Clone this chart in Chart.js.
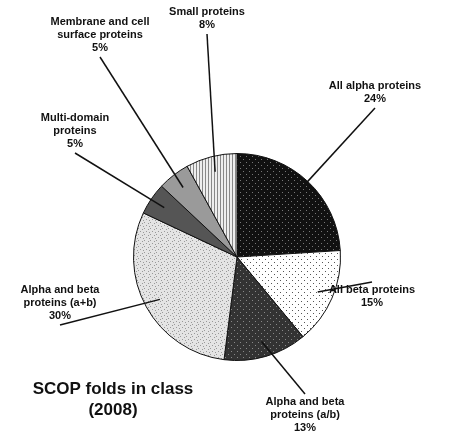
<!DOCTYPE html>
<html><head><meta charset="utf-8">
<script src="https://cdn.jsdelivr.net/npm/chart.js@4/dist/chart.umd.min.js"></script>
<style>html,body{margin:0;background:#fff}#wrap{width:474px;height:437px}</style>
</head><body><div id="wrap"><canvas id="c"></canvas></div>
<script>
// SCOP folds in class (2008), clockwise from 12 o'clock
const categories = ['All alpha proteins', 'All beta proteins', 'Alpha and beta proteins (a/b)',
  'Alpha and beta proteins (a+b)', 'Multi-domain proteins', 'Membrane and cell surface proteins', 'Small proteins'];
const shares = [24, 15, 13, 30, 5, 5, 8];
const labelLines = [
  ['All alpha proteins'], ['All beta proteins'], ['Alpha and beta', 'proteins (a/b)'],
  ['Alpha and beta', 'proteins (a+b)'], ['Multi-domain', 'proteins'],
  ['Membrane and cell', 'surface proteins'], ['Small proteins']
];
// where each callout text block sits (centre x, top y)
const labelAt = [[375, 80], [372, 284], [305, 396], [60, 284], [75, 112], [100, 16], [207, 6]];

// ── fill patterns ──
function pat(bg, fg, draw) {
  const p = document.createElement('canvas'); p.width = p.height = 6;
  const g = p.getContext('2d');
  g.fillStyle = bg; g.fillRect(0, 0, 6, 6); g.fillStyle = fg; g.strokeStyle = fg;
  draw(g);
  return g.createPattern(p, 'repeat');
}
const dots = (pts) => g => pts.forEach(([x, y]) => g.fillRect(x, y, 1, 1));
const fills = [
  pat('#111', '#777', dots([[0, 0], [3, 3]])),
  pat('#fff', '#555', dots([[1, 1], [4, 4]])),
  pat('#333', '#888', dots([[0, 0], [3, 3]])),
  pat('#e4e4e4', '#999', dots([[0, 0], [2, 3], [4, 1], [5, 4]])),
  '#555',
  '#9a9a9a',
  pat('#eee', '#888', g => { g.fillRect(1, 0, 1, 6); g.fillRect(4, 0, 1, 6); })
];

const callouts = {
  id: 'callouts',
  afterDraw(chart) {
    const ctx = chart.ctx;
    const arcs = chart.getDatasetMeta(0).data;
    ctx.save();
    ctx.fillStyle = '#111'; ctx.strokeStyle = '#111'; ctx.lineWidth = 1.5;
    ctx.font = 'bold 11px "Liberation Sans", Arial, sans-serif';
    ctx.textAlign = 'center'; ctx.textBaseline = 'top';
    arcs.forEach((a, i) => {
      const mid = (a.startAngle + a.endAngle) / 2;
      const sx = a.x + Math.cos(mid) * a.outerRadius * 0.85;
      const sy = a.y + Math.sin(mid) * a.outerRadius * 0.85;
      const lines = labelLines[i].concat([shares[i] + '%']);
      const [lx, ly] = labelAt[i];
      const h = lines.length * 13;
      // line ends at the edge of the text block nearest the slice
      let ex = lx, ey = ly + h + 2;
      if (sy < ly + 10) { ey = ly - 2; if (Math.abs(sx - lx) > 60) ex = lx + (sx > lx ? 35 : -35); }
      ctx.beginPath(); ctx.moveTo(sx, sy); ctx.lineTo(ex, ey); ctx.stroke();
      lines.forEach((t, k) => ctx.fillText(t, lx, ly + k * 13));
    });
    ctx.font = 'bold 17px "Liberation Sans", Arial, sans-serif';
    ctx.fillText('SCOP folds in class', 113, 381);
    ctx.fillText('(2008)', 113, 402);
    ctx.restore();
  }
};

new Chart(document.getElementById('c'), {
  type: 'pie',
  data: {
    labels: categories,
    datasets: [{ data: shares, backgroundColor: fills, borderColor: '#111', borderWidth: 1 }]
  },
  options: {
    responsive: true, maintainAspectRatio: false, animation: false,
    layout: { padding: { top: 153, bottom: 76 } },
    plugins: { legend: { display: false }, tooltip: { enabled: false } }
  },
  plugins: [callouts]
});
</script></body></html>
